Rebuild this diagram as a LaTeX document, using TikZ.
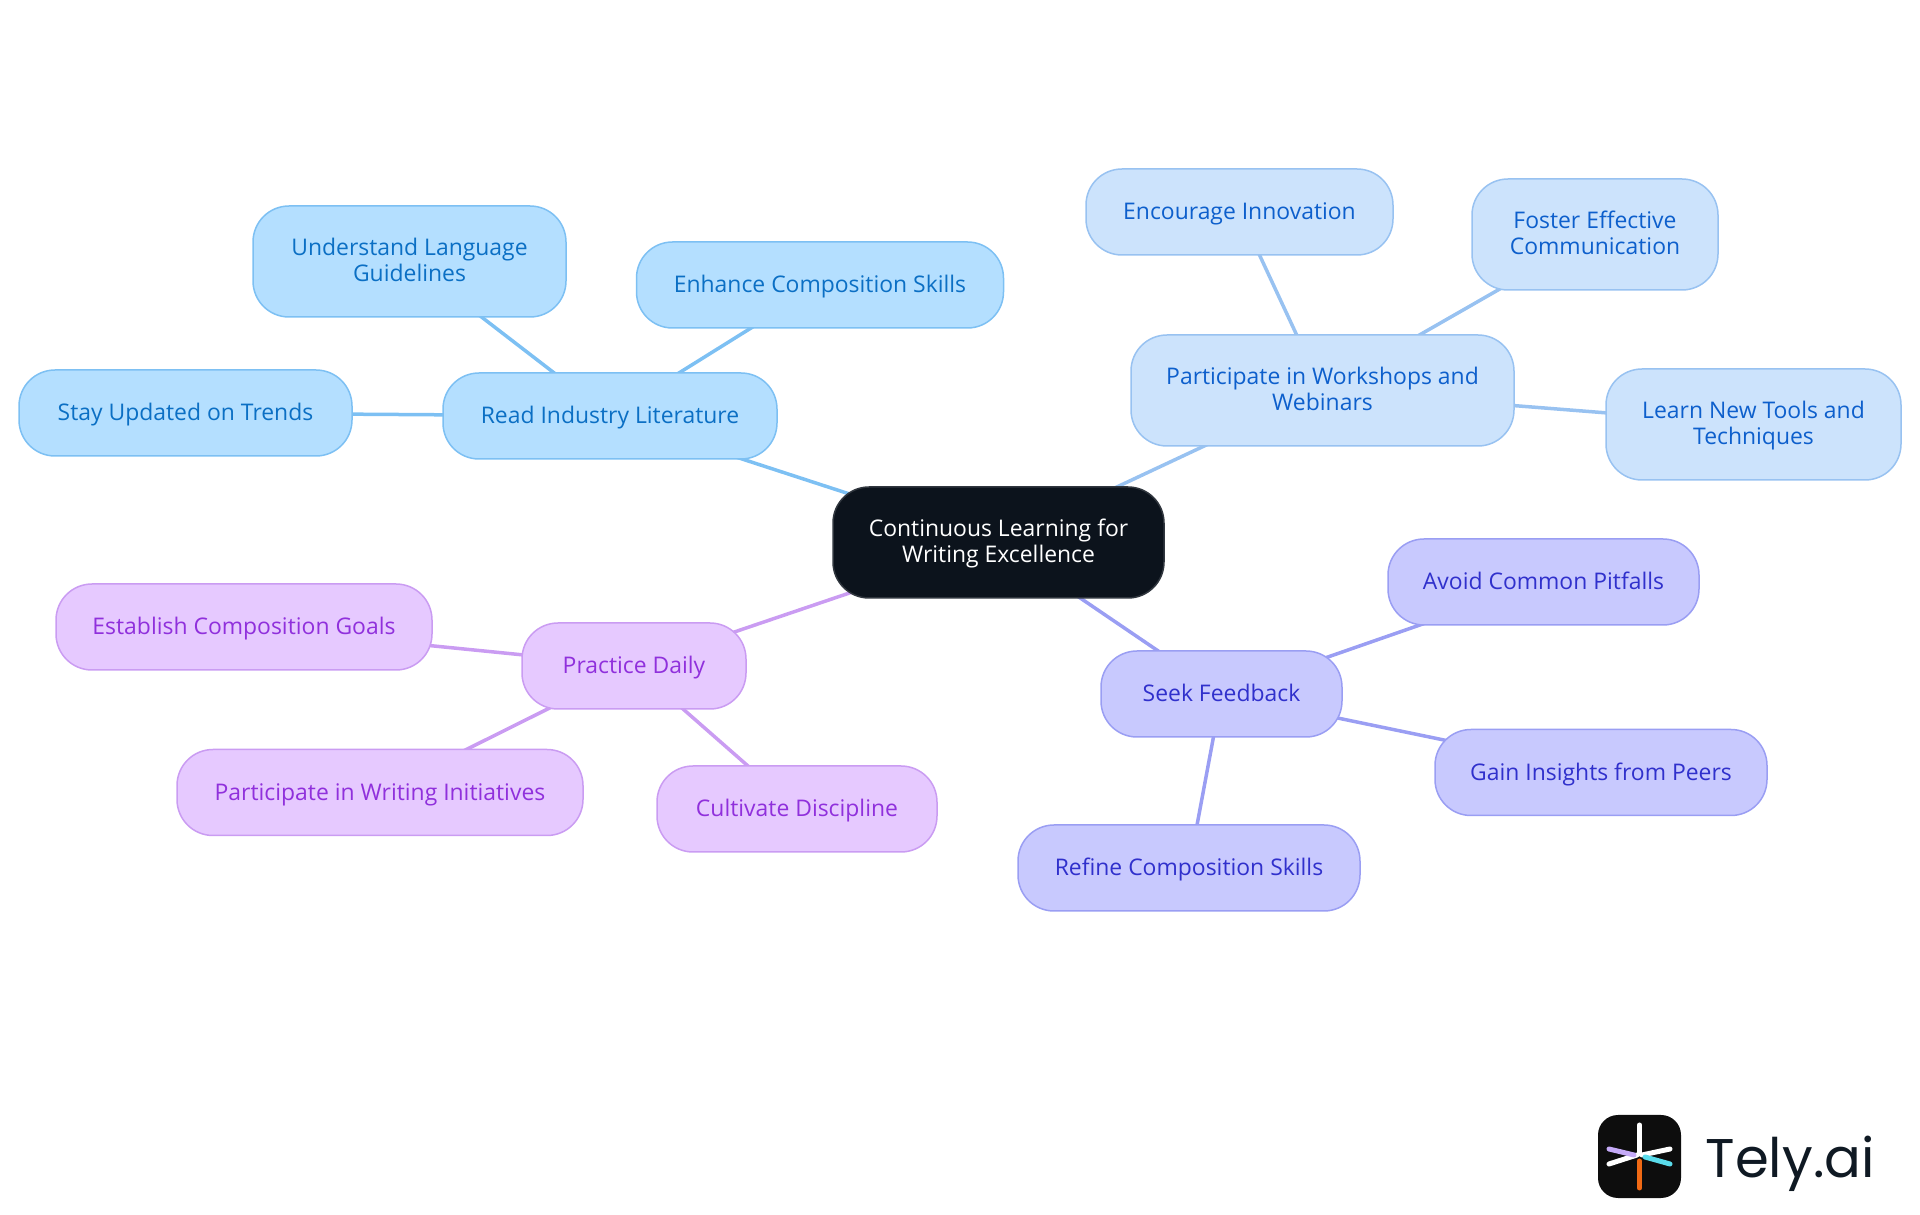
\documentclass[tikz,border=0pt]{standalone}
\usepackage{fontspec}
\setmainfont{Open Sans}
\newfontfamily\logofont{Poppins}
\usetikzlibrary{backgrounds}

\definecolor{skyfill}{HTML}{B4DFFF}
\definecolor{skyline}{HTML}{7DC0F3}
\definecolor{skytext}{HTML}{0B6FC4}
\definecolor{palefill}{HTML}{CCE3FC}
\definecolor{paleline}{HTML}{98C2F1}
\definecolor{paletext}{HTML}{0D5FCC}
\definecolor{indigofill}{HTML}{C8C9FE}
\definecolor{indigoline}{HTML}{9A9EF3}
\definecolor{indigotext}{HTML}{3030CC}
\definecolor{purplefill}{HTML}{E6C9FF}
\definecolor{purpleline}{HTML}{CA9CF2}
\definecolor{purpletext}{HTML}{9030DC}
\definecolor{darkfill}{HTML}{0C131C}
\definecolor{logolilac}{HTML}{C5AAF7}
\definecolor{logocyan}{HTML}{5ADCEB}
\definecolor{logoorange}{HTML}{F06914}
\definecolor{logotext}{HTML}{0F1923}

\begin{document}
\begin{tikzpicture}[
x=0.1mm, y=-0.1mm,
box/.style={rectangle, rounded corners=3.6mm, line width=0.15mm, inner sep=0pt, align=center,
  minimum height=8.6mm, text height=2.1mm, text depth=0.5mm,
  font=\fontsize{6.52pt}{7.3pt}\selectfont},
tall/.style={minimum height=11.1mm, text height=4.8mm, text depth=0.8mm},
sky_box/.style={box, fill=skyfill, draw=skyline, text=skytext},
pale_box/.style={box, fill=palefill, draw=paleline, text=paletext},
indigo_box/.style={box, fill=indigofill, draw=indigoline, text=indigotext},
purple_box/.style={box, fill=purplefill, draw=purpleline, text=purpletext},
sky_edge/.style={line width=0.35mm, skyline},
pale_edge/.style={line width=0.35mm, paleline},
indigo_edge/.style={line width=0.35mm, indigoline},
purple_edge/.style={line width=0.35mm, purpleline},
spoke/.style={line width=0.5mm, line cap=round}
]
\useasboundingbox (0,0) rectangle (1920,1215);

% Draw root
    \node[box, tall, fill=darkfill, draw=darkfill!85!white, text=white, minimum width=33.1mm] (root) at (998.5,542.5) {Continuous Learning for\\Writing Excellence};

% Draw sky nodes
    \node[sky_box, minimum width=33.4mm] (read) at (610,416) {Read Industry Literature};
    \node[sky_box, tall, minimum width=31.3mm] (language) at (409.5,261.5) {Understand Language\\Guidelines};
    \node[sky_box, minimum width=36.7mm] (enhance) at (820,285) {Enhance Composition Skills};
    \node[sky_box, minimum width=33.3mm] (trends) at (185.5,413) {Stay Updated on Trends};

% Draw pale nodes
    \node[pale_box, tall, minimum width=38.3mm] (workshops) at (1322.5,390.5) {Participate in Workshops and\\Webinars};
    \node[pale_box, minimum width=30.7mm] (innovation) at (1239.5,212) {Encourage Innovation};
    \node[pale_box, tall, minimum width=24.6mm] (foster) at (1595,234.5) {Foster Effective\\Communication};
    \node[pale_box, tall, minimum width=29.5mm] (tools) at (1753.5,424.5) {Learn New Tools and\\Techniques};

% Draw indigo nodes
    \node[indigo_box, minimum width=24.1mm] (feedback) at (1221.5,694) {Seek Feedback};
    \node[indigo_box, minimum width=31.1mm] (pitfalls) at (1543.5,582) {Avoid Common Pitfalls};
    \node[indigo_box, minimum width=33.2mm] (peers) at (1601,772.5) {Gain Insights from Peers};
    \node[indigo_box, minimum width=34.2mm] (refine) at (1189,868) {Refine Composition Skills};

% Draw purple nodes
    \node[purple_box, minimum width=22.4mm] (practice) at (634,666) {Practice Daily};
    \node[purple_box, minimum width=37.6mm] (goals) at (244,627) {Establish Composition Goals};
    \node[purple_box, minimum width=40.6mm] (initiatives) at (380,792.5) {Participate in Writing Initiatives};
    \node[purple_box, minimum width=28mm] (discipline) at (797,809) {Cultivate Discipline};

% Draw edges
\begin{scope}[on background layer]
    \draw[sky_edge] (root.center) -- (read.center);
    \draw[sky_edge] (read.center) -- (language.center);
    \draw[sky_edge] (read.center) -- (enhance.center);
    \draw[sky_edge] (read.center) -- (trends.center);
    \draw[pale_edge] (root.center) -- (workshops.center);
    \draw[pale_edge] (workshops.center) -- (innovation.center);
    \draw[pale_edge] (workshops.center) -- (foster.center);
    \draw[pale_edge] (workshops.center) -- (tools.center);
    \draw[indigo_edge] (root.center) -- (feedback.center);
    \draw[indigo_edge] (feedback.center) -- (pitfalls.center);
    \draw[indigo_edge] (feedback.center) -- (peers.center);
    \draw[indigo_edge] (feedback.center) -- (refine.center);
    \draw[purple_edge] (root.center) -- (practice.center);
    \draw[purple_edge] (practice.center) -- (goals.center);
    \draw[purple_edge] (practice.center) -- (initiatives.center);
    \draw[purple_edge] (practice.center) -- (discipline.center);
\end{scope}

% Draw logo
    \fill[black!95!white, rounded corners=2mm] (1598,1115) rectangle (1681,1198);
    \draw[spoke, white] (1639.5,1125) -- (1639.5,1154);
    \draw[spoke, white] (1609,1164) -- (1637,1155);
    \draw[spoke, white] (1670,1149) -- (1642,1155);
    \draw[spoke, logolilac] (1609,1149) -- (1634,1155);
    \draw[spoke, logocyan] (1645,1157) -- (1670,1164);
    \draw[spoke, logoorange] (1639.5,1161) -- (1639.5,1188);
    \node[anchor=base west, inner sep=0pt, text=logotext, font=\logofont\fontsize{15.5pt}{15.5pt}\selectfont] (logo) at (1705,1178) {Tely.ai};
\end{tikzpicture}
\end{document}
